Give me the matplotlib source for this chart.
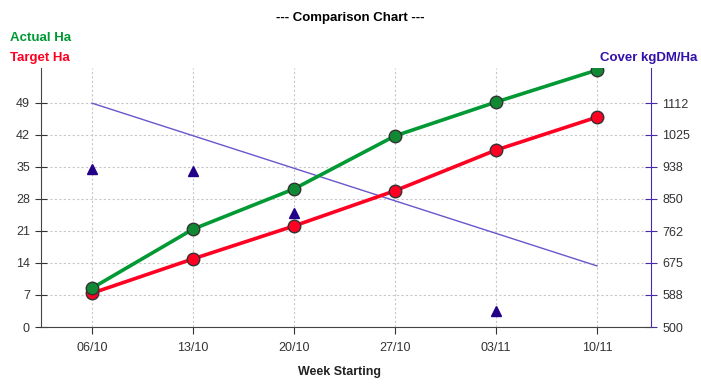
import matplotlib
matplotlib.use("Agg")
import matplotlib.pyplot as plt

plt.rcParams["font.family"] = ["Liberation Sans", "DejaVu Sans"]

# --------------------------------------------------------------------------
# data
# --------------------------------------------------------------------------
weeks = ["06/10", "13/10", "20/10", "27/10", "03/11", "10/11"]
actual_ha = [8.5, 21.4, 30.2, 41.8, 49.2, 56.2]
target_ha = [7.4, 14.9, 22.1, 29.8, 38.7, 45.9]
cover_trend = [1112, 1023, 934, 845, 756, 667]
cover_weeks = ["06/10", "13/10", "20/10", "03/11"]
cover_vals = [932, 926, 811, 544]

left_ticks = [0, 7, 14, 21, 28, 35, 42, 49]
right_ticks = [500, 588, 675, 762, 850, 938, 1025, 1112]

GREEN = "#009933"
RED = "#ff0022"
PURPLE = "#6a55cc"
NAVY = "#220088"

fig = plt.figure(figsize=(7.01, 3.85), dpi=100)
ax = fig.add_axes([41 / 701, 58 / 385, 610 / 701, 259 / 385])
ax2 = ax.twinx()

x = list(range(len(weeks)))
xc = [weeks.index(w) for w in cover_weeks]

# cover on the right axis
ax2.plot(x, cover_trend, color=PURPLE, lw=1.0, zorder=2)
ax2.plot(xc, cover_vals, "^", color=NAVY, ms=7, mec=NAVY, zorder=3)

ax.plot(x, target_ha, "-o", color=RED, lw=2.6, ms=9, mfc=RED, mec="#333333",
        mew=1.0, zorder=4)
ax.plot(x, actual_ha, "-o", color=GREEN, lw=2.6, ms=9, mfc="#118833", mec="#333333",
        mew=1.0, zorder=5)

ymax = 56.65
ax.set_ylim(0, ymax)
ax2.set_ylim(500, 500 + ymax * 12.5)
ax.set_xlim(-0.505, 5.535)

ax.set_xticks(x)
ax.set_xticklabels(weeks)
ax.set_yticks(left_ticks)
ax2.set_yticks(right_ticks)

# grid lives on the lower (right-hand) axes so the cover marks sit on top of it
ax2.xaxis.set_visible(True)
ax2.tick_params(axis="x", bottom=False, labelbottom=False)
ax2.grid(True, color="#c8c8c8", ls=(0, (2, 2)), lw=0.8)
ax2.set_axisbelow(True)

for a in (ax, ax2):
    a.spines["top"].set_visible(False)
    a.tick_params(axis="y", labelsize=9, colors="#333333")
ax.tick_params(axis="x", labelsize=9, colors="#333333")
ax.spines["left"].set_color("#444444")
ax.spines["bottom"].set_color("#444444")
ax.spines["right"].set_visible(False)
ax2.spines["left"].set_visible(False)
ax2.spines["bottom"].set_visible(False)
ax2.spines["right"].set_color("#4a2aa8")
ax.tick_params(axis="y", direction="inout", length=8, pad=4)
ax.tick_params(axis="x", direction="out", length=5, pad=6)
ax2.tick_params(axis="y", direction="inout", length=8, pad=4, color="#4a2aa8",
                labelcolor="#333333")

ax.set_zorder(ax2.get_zorder() + 1)
ax.patch.set_visible(False)

fig.text(0.5, 1 - 18 / 385, "--- Comparison Chart ---", ha="center", va="center",
         fontsize=9.5, fontweight="bold")
fig.text(10 / 701, 1 - 38 / 385, "Actual Ha", color=GREEN, fontsize=9.5,
         fontweight="bold", va="center")
fig.text(10 / 701, 1 - 58 / 385, "Target Ha", color=RED, fontsize=9.5,
         fontweight="bold", va="center")
fig.text(697 / 701, 1 - 58 / 385, "Cover kgDM/Ha", color="#3311aa", fontsize=9.5,
         fontweight="bold", va="center", ha="right")
fig.text(340 / 701, 1 - 372 / 385, "Week Starting", ha="center", va="center",
         fontsize=9, fontweight="bold", color="#222222")

fig.savefig("out.png", dpi=100)
